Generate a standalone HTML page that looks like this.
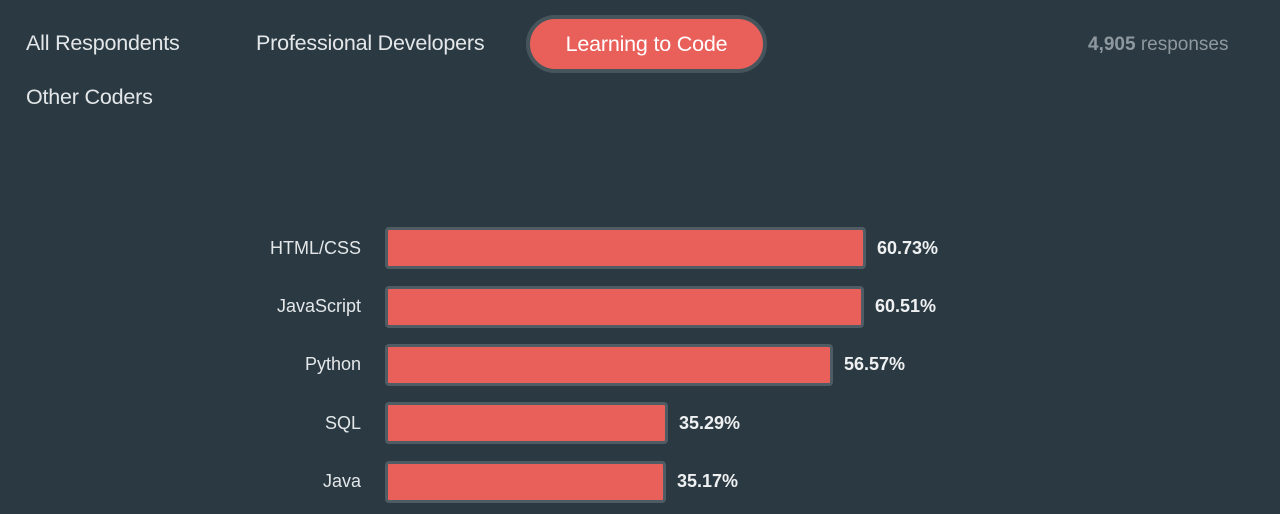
<!DOCTYPE html>
<html><head><style>
body{margin:0;width:1280px;height:514px;background:#2b3a42;font-family:"Liberation Sans",sans-serif;position:relative;overflow:hidden;color:#e3e7e9}
.t{position:absolute;font-size:21.5px;white-space:nowrap;letter-spacing:-0.2px}
.pill{position:absolute;left:526px;top:15px;width:233px;height:50px;border:4px solid #46555c;border-radius:30px;background:#e9605a;color:#fff;font-size:21.5px;text-align:center;line-height:50px;letter-spacing:-0.2px}
.lab{position:absolute;right:919px;font-size:18px;text-align:right}
.bar{position:absolute;left:385px;height:36px;border:3px solid #4f5c63;border-radius:4px;background:#e9605a}
.val{position:absolute;font-size:18px;font-weight:bold;color:#eef0f1}
</style></head><body>
<div class="t" style="left:26px;top:31px">All Respondents</div>
<div class="t" style="left:256px;top:31px">Professional Developers</div>
<div class="pill">Learning to Code</div>
<div class="t" style="left:1088px;top:34px;font-size:19px;color:#8e989e;letter-spacing:0"><b>4,905</b> responses</div>
<div class="t" style="left:26px;top:85px">Other Coders</div>

<div class="lab" style="top:238px">HTML/CSS</div>
<div class="bar" style="top:227px;width:475px"></div>
<div class="val" style="left:877px;top:238px">60.73%</div>

<div class="lab" style="top:296px">JavaScript</div>
<div class="bar" style="top:286px;width:473px"></div>
<div class="val" style="left:875px;top:296px">60.51%</div>

<div class="lab" style="top:354px">Python</div>
<div class="bar" style="top:344px;width:442px"></div>
<div class="val" style="left:844px;top:354px">56.57%</div>

<div class="lab" style="top:413px">SQL</div>
<div class="bar" style="top:402px;width:277px"></div>
<div class="val" style="left:679px;top:413px">35.29%</div>

<div class="lab" style="top:471px">Java</div>
<div class="bar" style="top:461px;width:275px"></div>
<div class="val" style="left:677px;top:471px">35.17%</div>
</body></html>
